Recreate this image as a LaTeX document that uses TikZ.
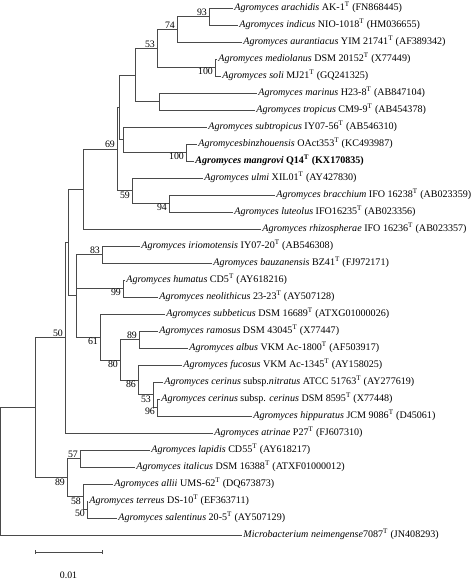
\documentclass[tikz,border=0pt]{standalone}
\usepackage{fontspec}
\setmainfont{Liberation Serif}
\usepackage{tikz}
\usetikzlibrary{positioning}
\definecolor{trait}{HTML}{4A4A4A}
\newcommand{\typ}{\textsuperscript{T}}
\tikzset{
  taxon/.style={anchor=west, inner sep=1pt, font=\fontsize{8.6}{10}\selectfont,
                text height=1.5ex, text depth=.4ex},
  boot/.style={inner sep=0.6pt, font=\fontsize{8.4}{9}\selectfont},
  branche/.style={draw=trait, line width=0.55pt},
}

\begin{document}
\begin{tikzpicture}[x=0.03cm, y=-0.03cm]
    \useasboundingbox (0,0) rectangle (474,580);
    % taxa
    \node[taxon] (t1) at (233,8) {\textit{Agromyces arachidis} AK-1\typ{} (FN868445)};
    \node[taxon] (t2) at (238,25) {\textit{Agromyces indicus} NIO-1018\typ{} (HM036655)};
    \node[taxon] (t3) at (242,42) {\textit{Agromyces aurantiacus} YIM 21741\typ{} (AF389342)};
    \node[taxon] (t4) at (217,59) {\textit{Agromyces mediolanus} DSM 20152\typ{} (X77449)};
    \node[taxon] (t5) at (221,76) {\textit{Agromyces soli} MJ21\typ{} (GQ241325)};
    \node[taxon] (t6) at (257,93) {\textit{Agromyces marinus} H23-8\typ{} (AB847104)};
    \node[taxon] (t7) at (255,110) {\textit{Agromyces tropicus} CM9-9\typ{} (AB454378)};
    \node[taxon] (t8) at (207,127) {\textit{Agromyces subtropicus} IY07-56\typ{} (AB546310)};
    \node[taxon] (t9) at (197,144) {\textit{Agromycesbinzhouensis} OAct353\typ{} (KC493987)};
    \node[taxon] (t10) at (194,161) {\textbf{\textit{Agromyces mangrovi} Q14\typ{} (KX170835)}};
    \node[taxon] (t11) at (203,178) {\textit{Agromyces ulmi} XIL01\typ{} (AY427830)};
    \node[taxon] (t12) at (275,195) {\textit{Agromyces bracchium} IFO 16238\typ{} (AB023359)};
    \node[taxon] (t13) at (233,212) {\textit{Agromyces luteolus} IFO16235\typ{} (AB023356)};
    \node[taxon] (t14) at (261,229) {\textit{Agromyces rhizospherae} IFO 16236\typ{} (AB023357)};
    \node[taxon] (t15) at (140,246) {\textit{Agromyces iriomotensis} IY07-20\typ{} (AB546308)};
    \node[taxon] (t16) at (212,263) {\textit{Agromyces bauzanensis} BZ41\typ{} (FJ972171)};
    \node[taxon] (t17) at (125,280) {\textit{Agromyces humatus} CD5\typ{} (AY618216)};
    \node[taxon] (t18) at (158,297) {\textit{Agromyces neolithicus} 23-23\typ{} (AY507128)};
    \node[taxon] (t19) at (165,314) {\textit{Agromyces subbeticus} DSM 16689\typ{} (ATXG01000026)};
    \node[taxon] (t20) at (158,331) {\textit{Agromyces ramosus} DSM 43045\typ{} (X77447)};
    \node[taxon] (t21) at (188,348) {\textit{Agromyces albus} VKM Ac-1800\typ{} (AF503917)};
    \node[taxon] (t22) at (182,365) {\textit{Agromyces fucosus} VKM Ac-1345\typ{} (AY158025)};
    \node[taxon] (t23) at (163,382) {\textit{Agromyces cerinus} subsp.\textit{nitratus} ATCC 51763\typ{} (AY277619)};
    \node[taxon] (t24) at (160,399) {\textit{Agromyces cerinus} subsp. \textit{cerinus} DSM 8595\typ{} (X77448)};
    \node[taxon] (t25) at (252,416) {\textit{Agromyces hippuratus} JCM 9086\typ{} (D45061)};
    \node[taxon] (t26) at (213,433) {\textit{Agromyces atrinae} P27\typ{} (FJ607310)};
    \node[taxon] (t27) at (150,450) {\textit{Agromyces lapidis} CD55\typ{} (AY618217)};
    \node[taxon] (t28) at (135,467) {\textit{Agromyces italicus} DSM 16388\typ{} (ATXF01000012)};
    \node[taxon] (t29) at (113,484) {\textit{Agromyces allii} UMS-62\typ{} (DQ673873)};
    \node[taxon] (t30) at (88,501) {\textit{Agromyces terreus} DS-10\typ{} (EF363711)};
    \node[taxon] (t31) at (117,518) {\textit{Agromyces salentinus} 20-5\typ{} (AY507129)};
    \node[taxon] (t32) at (242,535) {\textit{Microbacterium neimengense}7087\typ{} (JN408293)};
    % noeuds internes
    \coordinate (n93) at (209,16.5);   \coordinate (n74) at (177,29.3);
    \coordinate (n100a) at (215,67.5); \coordinate (n53a) at (157,48.4);
    \coordinate (nmar) at (159,101.5); \coordinate (nb) at (135,74.9);
    \coordinate (n100b) at (186,152.5);\coordinate (nc) at (123,139.8);
    \coordinate (nd) at (119,107.3);   \coordinate (n94) at (169,203.5);
    \coordinate (n59) at (132,190.8);  \coordinate (n69) at (117,149);
    \coordinate (nr) at (83,189);      \coordinate (n83) at (102,254.5);
    \coordinate (n99) at (123,288.5);  \coordinate (n89a) at (139,339.5);
    \coordinate (n96) at (157,407.5);  \coordinate (n53b) at (153,394.8);
    \coordinate (n86) at (138,380);    \coordinate (n80) at (120,360);
    \coordinate (n61) at (100,337);    \coordinate (ng) at (76,295);
    \coordinate (nf) at (68,242);      \coordinate (n50a) at (65,337.5);
    \coordinate (n57) at (80,458.5);   \coordinate (n50b) at (87,509.5);
    \coordinate (n58) at (83,496.8);   \coordinate (n89b) at (67,477.6);
    \coordinate (nin) at (35,407.6);   \coordinate (racine) at (0,471);
    % branches
    \draw[branche] (n93) |- (t1.west) (n93) |- (t2.west);
    \draw[branche] (n74) |- (n93) (n74) |- (t3.west);
    \draw[branche] (n100a) |- (t4.west) (n100a) |- (t5.west);
    \draw[branche] (n53a) |- (n74) (n53a) |- (n100a);
    \draw[branche] (nmar) |- (t6.west) (nmar) |- (t7.west);
    \draw[branche] (nb) |- (n53a) (nb) |- (nmar);
    \draw[branche] (n100b) |- (t9.west) (n100b) |- (t10.west);
    \draw[branche] (nc) |- (t8.west) (nc) |- (n100b);
    \draw[branche] (nd) |- (nb) (nd) |- (nc);
    \draw[branche] (n94) |- (t12.west) (n94) |- (t13.west);
    \draw[branche] (n59) |- (t11.west) (n59) |- (n94);
    \draw[branche] (n69) |- (nd) (n69) |- (n59);
    \draw[branche] (nr) |- (n69) (nr) |- (t14.west);
    \draw[branche] (n83) |- (t15.west) (n83) |- (t16.west);
    \draw[branche] (n99) |- (t17.west) (n99) |- (t18.west);
    \draw[branche] (n89a) |- (t20.west) (n89a) |- (t21.west);
    \draw[branche] (n96) |- (t24.west) (n96) |- (t25.west);
    \draw[branche] (n53b) |- (t23.west) (n53b) |- (n96);
    \draw[branche] (n86) |- (t22.west) (n86) |- (n53b);
    \draw[branche] (n80) |- (n89a) (n80) |- (n86);
    \draw[branche] (n61) |- (t19.west) (n61) |- (n80);
    \draw[branche] (ng) |- (n83) (ng) |- (n99) (ng) |- (n61);
    \draw[branche] (nf) |- (nr) (nf) |- (ng);
    \draw[branche] (n50a) |- (nf) (n50a) |- (t26.west);
    \draw[branche] (n57) |- (t27.west) (n57) |- (t28.west);
    \draw[branche] (n50b) |- (t30.west) (n50b) |- (t31.west);
    \draw[branche] (n58) |- (t29.west) (n58) |- (n50b);
    \draw[branche] (n89b) |- (n57) (n89b) |- (n58);
    \draw[branche] (nin) |- (n50a) (nin) |- (n89b);
    \draw[branche] (racine) |- (nin) (racine) |- (t32.west);
    % bootstrap
    \node[boot, above left=0pt and 1pt of n93] (b93) {93};
    \node[boot, above left=0pt and 1pt of n74] (b74) {74};
    \node[boot, above left=0pt and 1pt of n53a] (b53a) {53};
    \node[boot, below left=0pt and 1pt of n100a] (b100a) {100};
    \node[boot, above left=0pt and 1pt of n69] (b69) {69};
    \node[boot, below left=0pt and 1pt of n100b] (b100b) {100};
    \node[boot, below left=0pt and 1pt of n59] (b59) {59};
    \node[boot, below left=0pt and 1pt of n94] (b94) {94};
    \node[boot, above left=0pt and 1pt of n83] (b83) {83};
    \node[boot, below left=0pt and 1pt of n99] (b99) {99};
    \node[boot, below left=0pt and 1pt of n61] (b61) {61};
    \node[boot, above left=0pt and 1pt of n89a] (b89a) {89};
    \node[boot, below left=0pt and 1pt of n80] (b80) {80};
    \node[boot, below left=0pt and 1pt of n86] (b86) {86};
    \node[boot, below left=0pt and 1pt of n53b] (b53b) {53};
    \node[boot, below left=0pt and 1pt of n96] (b96) {96};
    \node[boot, above left=0pt and 1pt of n50a] (b50a) {50};
    \node[boot, above left=0pt and 1pt of n57] (b57) {57};
    \node[boot, below left=0pt and 1pt of n89b] (b89b) {89};
    \node[boot, below left=0pt and 1pt of n58] (b58) {58};
    \node[boot, below left=0pt and 1pt of n50b] (b50b) {50};
    % echelle
    \coordinate (e0) at (35,552); \coordinate (e1) at (102,552);
    \draw[branche] (e0) -- (e1);
    \draw[branche] ([yshift=-1.8pt]e0) -- ([yshift=1.8pt]e0) ([yshift=-1.8pt]e1) -- ([yshift=1.8pt]e1);
    \node[boot] (echelle) at (68.5,575) {0.01};
  \end{tikzpicture}
\end{document}
